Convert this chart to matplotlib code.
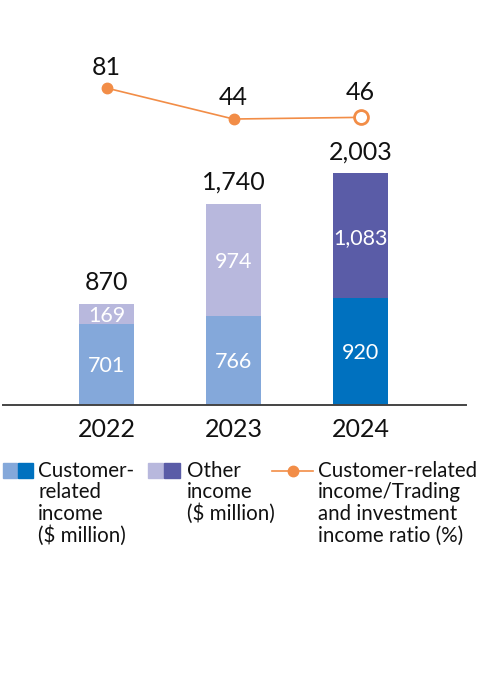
import matplotlib
matplotlib.use('Agg')
import matplotlib.pyplot as plt
from matplotlib.patches import Rectangle
from matplotlib.lines import Line2D

# ---- data ----
years = ['2022', '2023', '2024']
customer = [701, 766, 920]
other = [169, 974, 1083]
ratio = [81, 44, 46]
legend_labels = [['Customer-', 'related', 'income', '(\\$ million)'],
                 ['Other', 'income', '(\\$ million)'],
                 ['Customer-related', 'income/Trading', 'and investment', 'income ratio (%)']]

W, H = 500, 699
plt.rcParams['font.family'] = ['Lato', 'DejaVu Sans']
fig = plt.figure(figsize=(W / 100, H / 100), dpi=100)
fig.patch.set_facecolor('white')

cust_colors = ['#84a8da', '#84a8da', '#0071bf']
oth_colors = ['#b8b8dd', '#b8b8dd', '#5a5ca7']
orange = '#f28d47'

ax = fig.add_axes([0, 0, 1, 1])
ax.set_axis_off()
xs = list(range(len(years)))
spacing = 127.0
bw = 55 / spacing
ax.bar(xs, customer, width=bw, color=cust_colors, zorder=2)
ax.bar(xs, other, bottom=customer, width=bw, color=oth_colors, zorder=2)
ax.set_xlim(-106.5 / spacing, (W - 106.5) / spacing)
base, s = 404.5, 0.1154
ax.set_ylim(-(H - base) / s, base / s)
ax.axhline(0, xmin=3 / W, xmax=466 / W, color='#444444', lw=1.4, zorder=3)

for i in xs:
    tot = customer[i] + other[i]
    ax.annotate(f'{tot:,}', (i, tot), xytext=(0, 10.2), textcoords='offset points',
                ha='center', va='baseline', fontsize=18, color='#111111')
    ax.text(i, customer[i] / 2, f'{customer[i]:,}', ha='center', va='center_baseline',
            color='white', fontsize=15.5)
    ax.text(i, customer[i] + other[i] / 2, f'{other[i]:,}', ha='center', va='center_baseline',
            color='white', fontsize=15.5)
    ax.annotate(years[i], (i, 0), xytext=(0, -23.4), textcoords='offset points',
                ha='center', va='baseline', fontsize=18, color='#111111')

ax2 = ax.twinx()
ax2.set_axis_off()
l0, ls = 155.9, 0.838
ax2.set_ylim(-(H - l0) / ls, l0 / ls)
ax2.plot(xs, ratio, color=orange, lw=1.2, zorder=3)
ax2.plot(xs[:2], ratio[:2], 'o', color=orange, ms=7.5, zorder=4)
ax2.plot(xs[2:], ratio[2:], 'o', mfc='white', mec=orange, mew=2, ms=10, zorder=4)
offs = [9.6, 10.0, 12.5]
for i in xs:
    ax2.annotate(f'{ratio[i]}', (i, ratio[i]), xytext=(0, offs[i]), textcoords='offset points',
                 ha='center', va='baseline', fontsize=18, color='#111111')

# ---- legend ----
def fy(y):
    return 1 - y / H

def sq(x0, x1, color):
    fig.add_artist(Rectangle((x0 / W, fy(478)), (x1 - x0) / W, 15 / H,
                             transform=fig.transFigure, color=color))

sq(3, 17, cust_colors[0]); sq(18, 33, cust_colors[2])
sq(148, 163, oth_colors[0]); sq(164, 180, oth_colors[2])
fig.add_artist(Line2D([272 / W, 313 / W], [fy(470.7)] * 2, color=orange, lw=1.2,
                      transform=fig.transFigure))
fig.add_artist(Line2D([293 / W], [fy(470.7)], marker='o', color=orange, ms=7.5,
                      transform=fig.transFigure))
for xt, lines in zip([38, 187, 318], legend_labels):
    for k, line in enumerate(lines):
        fig.text(xt / W, fy(476.7 + 21.7 * k), line, ha='left', va='baseline',
                 fontsize=14.8, color='#111111')

fig.savefig('out.png', dpi=100, facecolor='white')
